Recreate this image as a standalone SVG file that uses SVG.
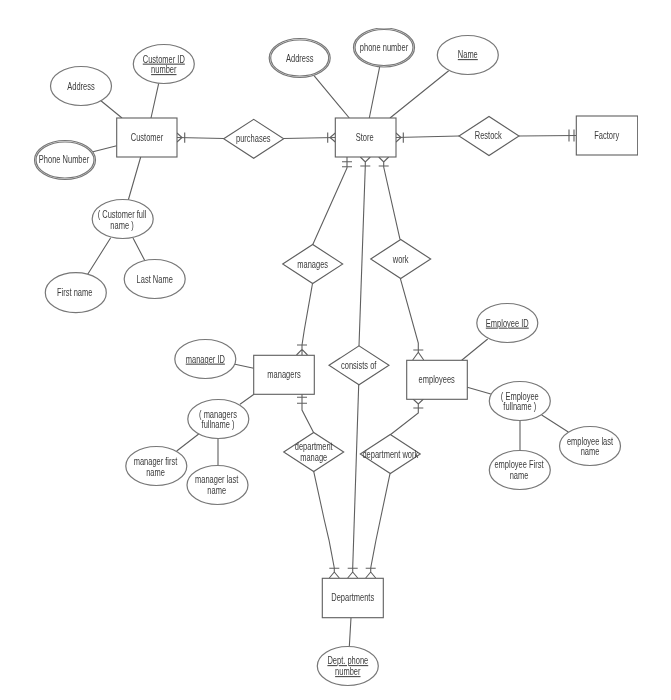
<svg xmlns="http://www.w3.org/2000/svg" width="671" height="700" viewBox="0 0 671 700">
<style>
.s{fill:#fff;stroke:#5f5f5f;stroke-width:1.1}
ellipse.s{stroke:#777;stroke-width:1.2}
.l{fill:none;stroke:#5f5f5f;stroke-width:1.1}
text{font-family:"Liberation Sans",Arial,sans-serif;font-size:10px;fill:#3a3a3a;text-anchor:middle}
.u{text-decoration:underline}
</style>
<defs>
<filter id="soft" x="0" y="0" width="100%" height="100%"><feGaussianBlur stdDeviation="0.45"/></filter>
<polygon id="dia" points="-30,0 0,-19.500 30,0 0,19.500"/>
</defs>
<rect width="671" height="700" fill="#fff"/>
<g filter="url(#soft)">
<g id="connectors" class="l">
<path d="M100 100L122 118M158.700 83.300L151 118M93 151.700L116.700 145.700M140.700 157L128.300 200M110.700 237.700L87.700 274.300M133 238L145 261"/>
<path d="M177 137.500L224 138.500M283.500 138.500L335.300 137.500M396 137.500L459 136M519 136L576.300 135.500"/>
<path d="M177 133L182 137.500L177 142M184.700 132.500V142.700"/>
<path d="M335.300 133L330 137.500L335.300 142M327.700 132.500V142.700"/>
<path d="M396 133L401 137.500L396 142M403.300 132.500V142.700"/>
<path d="M569 129.500V141.500M574 129.500V141.500"/>
<path d="M314 75.700L349.300 118M379.700 66.700L369.300 118M448.700 70.700L390 118"/>
<path d="M347 157V168L312.700 244.700M342 161.700H352M342 166.700H352"/>
<path d="M365.300 162V166L359 346M360.300 157L365.300 162L370.300 157M360.300 166H370.300"/>
<path d="M383.700 162V167L400 239.300M378.700 157L383.700 162L388.700 157M378.700 166H388.700"/>
<path d="M312.500 283.500L304.300 330L302 345V355M302 349.300L296.500 355M302 349.300L307.500 355M297 345H307"/>
<path d="M302 394V410L313.700 432.700M297 397.300H307M297 403.300H307"/>
<path d="M400.300 278.300L418.300 343V352.300M418.300 352.300L412.700 360M418.300 352.300L423.700 360M413.300 350H423.300"/>
<path d="M418.300 404V413L390 435M413 399L418.300 404L423.500 399M413.300 408H423.300"/>
<path d="M313.700 471.300L324.300 520L329 540L334.300 568V572M329.300 578L334.300 572L339.300 578M329.300 568.300H339.300"/>
<path d="M358.700 384.700L352.700 568V572M347.700 578L352.700 572L357.700 578M347.700 568.300H357.700"/>
<path d="M390 473.700L376 540L370.700 568V572M365.700 578L370.700 572L375.700 578M365.700 568.300H375.700"/>
<path d="M235 364.300L253.700 368.300M254 394.300L240 404.300M198.700 434L176.700 451M218 438.700V465"/>
<path d="M487.700 339L461.700 360.300M467.300 387.300L491.700 394.300M520 420.700V450.700M541.700 415L568.300 432M351 617.700L349.300 646.700"/>
</g>
<g id="customer"><rect class="s" x="116.700" y="118" width="60.300" height="39"/><text transform="translate(147 140.500) scale(.75 1)">Customer</text></g>
<g id="customer-id"><ellipse class="s" cx="163.800" cy="64" rx="30.500" ry="19.500"/><text class="u" transform="translate(163.800 62.500) scale(.75 1)">Customer ID</text><text class="u" transform="translate(163.800 73) scale(.75 1)">number</text></g>
<g id="customer-address"><ellipse class="s" cx="81" cy="86" rx="30.500" ry="19.500"/><text transform="translate(81 89.500) scale(.75 1)">Address</text></g>
<g id="customer-phone"><ellipse class="s" cx="65" cy="160" rx="30.500" ry="19.500"/><ellipse class="s" cx="65" cy="160" rx="29" ry="18"/><text transform="translate(64 163) scale(.75 1)">Phone Number</text></g>
<g id="customer-fullname"><ellipse class="s" cx="122.700" cy="219" rx="30.500" ry="19.500"/><text transform="translate(122 218) scale(.75 1)">( Customer full</text><text transform="translate(122 228.500) scale(.75 1)">name )</text></g>
<g id="customer-first"><ellipse class="s" cx="75.800" cy="292.700" rx="30.500" ry="20"/><text transform="translate(74.700 296) scale(.75 1)">First name</text></g>
<g id="customer-last"><ellipse class="s" cx="154.700" cy="279" rx="30.500" ry="19.500"/><text transform="translate(154.700 282.500) scale(.75 1)">Last Name</text></g>
<g id="purchases"><use href="#dia" class="s" x="253.700" y="138.800"/><text transform="translate(253.300 142) scale(.75 1)">purchases</text></g>
<g id="store"><rect class="s" x="335.300" y="118" width="60.700" height="39"/><text transform="translate(364.700 141) scale(.75 1)">Store</text></g>
<g id="store-address"><ellipse class="s" cx="299.700" cy="58" rx="30.500" ry="19.500"/><ellipse class="s" cx="299.700" cy="58" rx="29" ry="18"/><text transform="translate(299.700 61.500) scale(.75 1)">Address</text></g>
<g id="store-phone"><ellipse class="s" cx="384" cy="47.500" rx="30.500" ry="19.500"/><ellipse class="s" cx="384" cy="47.500" rx="29" ry="18"/><text transform="translate(384 51) scale(.75 1)">phone number</text></g>
<g id="store-name"><ellipse class="s" cx="467.800" cy="55" rx="30.500" ry="19.500"/><text class="u" transform="translate(467.800 58) scale(.75 1)">Name </text></g>
<g id="restock"><use href="#dia" class="s" x="489" y="136"/><text transform="translate(488.300 139) scale(.75 1)">Restock</text></g>
<g id="factory"><rect class="s" x="576.300" y="116" width="61.400" height="39"/><text transform="translate(606.700 138.500) scale(.75 1)">Factory</text></g>
<g id="manages"><use href="#dia" class="s" x="312.700" y="264"/><text transform="translate(312.700 267.500) scale(.75 1)">manages</text></g>
<g id="work"><use href="#dia" class="s" x="400.700" y="259"/><text transform="translate(400.700 262.500) scale(.75 1)">work</text></g>
<g id="consists-of"><use href="#dia" class="s" x="359" y="365.300"/><text transform="translate(358.700 368.500) scale(.75 1)">consists of</text></g>
<g id="managers"><rect class="s" x="253.700" y="355.300" width="60.600" height="39"/><text transform="translate(284 378) scale(.75 1)">managers</text></g>
<g id="manager-id"><ellipse class="s" cx="205.300" cy="359" rx="30.500" ry="19.500"/><text class="u" transform="translate(205.300 362.500) scale(.75 1)">manager ID</text></g>
<g id="managers-fullname"><ellipse class="s" cx="218.300" cy="419" rx="30.500" ry="19.500"/><text transform="translate(218 417.500) scale(.75 1)">( managers</text><text transform="translate(218 428) scale(.75 1)">fullname )</text></g>
<g id="manager-first"><ellipse class="s" cx="156.300" cy="466" rx="30.500" ry="19.500"/><text transform="translate(155.500 464.500) scale(.75 1)">manager first</text><text transform="translate(155.500 475.500) scale(.75 1)">name</text></g>
<g id="manager-last"><ellipse class="s" cx="217.500" cy="485" rx="30.500" ry="19.500"/><text transform="translate(216.700 482.500) scale(.75 1)">manager last</text><text transform="translate(216.700 493.500) scale(.75 1)">name</text></g>
<g id="department-manage"><use href="#dia" class="s" x="313.700" y="452"/><text transform="translate(313.700 450) scale(.75 1)">department</text><text transform="translate(313.700 460.500) scale(.75 1)">manage</text></g>
<g id="employees"><rect class="s" x="406.700" y="360.300" width="60.600" height="39"/><text transform="translate(436.700 383) scale(.75 1)">employees</text></g>
<g id="employee-id"><ellipse class="s" cx="507.300" cy="323" rx="30.500" ry="19.500"/><text class="u" transform="translate(507.300 326.500) scale(.75 1)">Employee ID</text></g>
<g id="employee-fullname"><ellipse class="s" cx="519.800" cy="401" rx="30.500" ry="19.500"/><text transform="translate(519.800 399.500) scale(.75 1)">( Employee</text><text transform="translate(519.800 410) scale(.75 1)">fullname )</text></g>
<g id="employee-first"><ellipse class="s" cx="519.800" cy="470" rx="30.500" ry="19.500"/><text transform="translate(519 468) scale(.75 1)">employee First</text><text transform="translate(519 478.500) scale(.75 1)">name</text></g>
<g id="employee-last"><ellipse class="s" cx="590" cy="446" rx="30.500" ry="19.500"/><text transform="translate(590 444.500) scale(.75 1)">employee last</text><text transform="translate(590 455) scale(.75 1)">name</text></g>
<g id="department-work"><use href="#dia" class="s" x="390.300" y="454"/><text transform="translate(390.300 457.500) scale(.75 1)">department work</text></g>
<g id="departments"><rect class="s" x="322.300" y="578.300" width="61" height="39.400"/><text transform="translate(352.700 601) scale(.75 1)">Departments</text></g>
<g id="dept-phone"><ellipse class="s" cx="347.800" cy="666" rx="30.500" ry="19.500"/><text class="u" transform="translate(347.800 664) scale(.75 1)">Dept. phone</text><text class="u" transform="translate(347.800 675) scale(.75 1)">number</text></g>
</g>
</svg>
